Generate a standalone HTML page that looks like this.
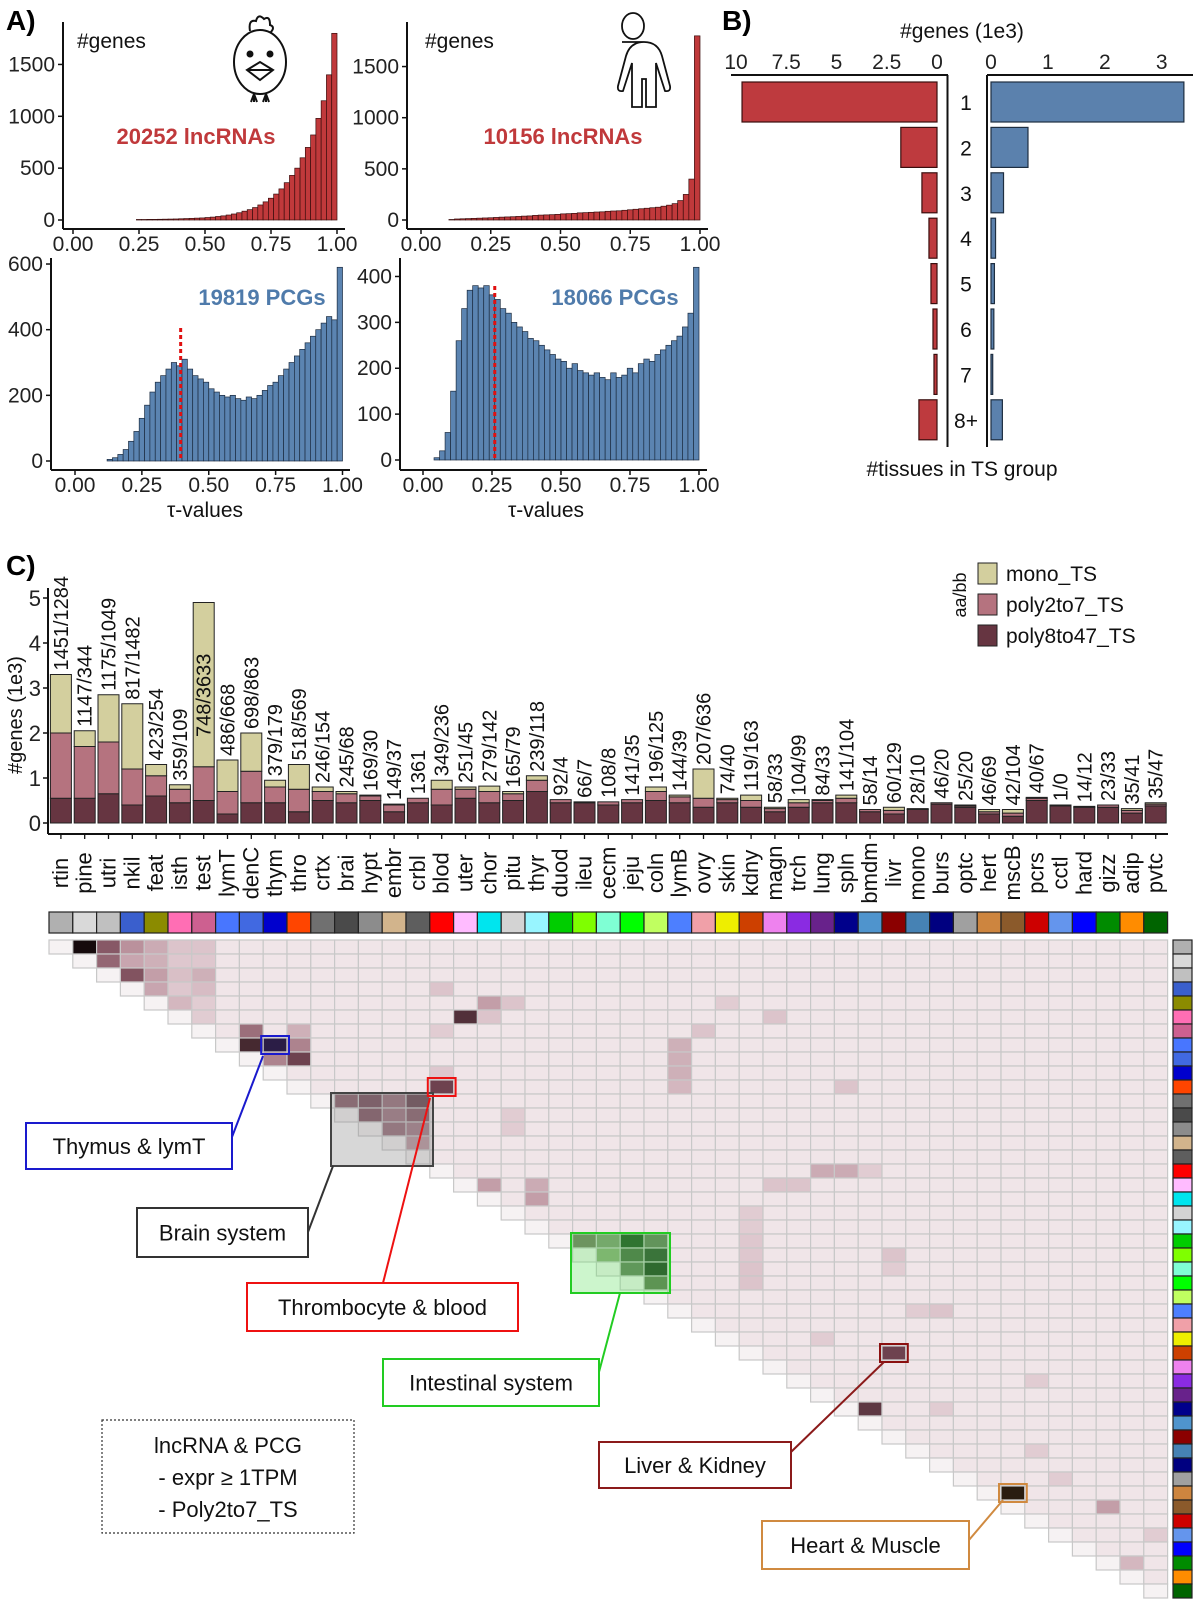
<!DOCTYPE html>
<html><head><meta charset="utf-8">
<style>
html,body{margin:0;padding:0;background:#fff;}
svg{display:block;font-family:"Liberation Sans",sans-serif;}
</style></head>
<body>
<svg id="fig" width="1200" height="1603" viewBox="0 0 1200 1603" xmlns="http://www.w3.org/2000/svg">
<rect width="1200" height="1603" fill="#fff"/>
<text x="6" y="30" font-size="28" font-weight="bold">A)</text>
<text x="722" y="30" font-size="28" font-weight="bold">B)</text>
<text x="6" y="575" font-size="28" font-weight="bold">C)</text>
<!-- chicken icon -->
<g fill="none" stroke="#111" stroke-width="2">
<ellipse cx="260" cy="62" rx="26" ry="32" fill="#fff"/>
<path d="M250 31 q-2 -12 6 -10 q2 -8 8 -2 q6 -4 6 6 q6 2 0 8"/>
<circle cx="250" cy="54" r="2.5" fill="#111"/><circle cx="270" cy="54" r="2.5" fill="#111"/>
<path d="M247 70 L260 62 L273 70 L260 80 Z M247 70 L273 70"/>
<path d="M254 94 l-3 8 M254 94 l0 8 M254 94 l3 8 M266 94 l-3 8 M266 94 l0 8 M266 94 l3 8"/>
</g>
<!-- human icon -->
<g fill="#fff" stroke="#111" stroke-width="1.8">
<ellipse cx="633" cy="26" rx="11" ry="13"/>
<path d="M622 42 h22 q14 0 18 14 l8 30 q1 6 -5 5 l-9 -28 v44 h-10 v-28 h-4 v28 h-10 v-44 l-9 28 q-6 1 -5 -5 l8 -30 q4 -14 18 -14 Z" />
</g>
</svg>
<script>
const NS='http://www.w3.org/2000/svg';
const svg=document.getElementById('fig');
function mk(tag,attrs,parent){const e=document.createElementNS(NS,tag);for(const k in attrs)e.setAttribute(k,attrs[k]);(parent||svg).appendChild(e);return e;}
function txt(s,attrs,parent){const t=mk('text',attrs,parent);t.textContent=s;return t;}

/* ---------- Panel A data ---------- */
const chickLnc=[0,0,0,0,0,0,0,0,0,0,0,0,5,5,6,6,7,8,9,10,12,14,16,18,20,24,28,34,40,48,58,70,85,100,120,145,175,210,250,300,360,430,500,600,700,820,980,1150,1400,1800];
const humanLnc=[0,0,0,0,0,5,10,12,14,16,18,20,22,25,28,30,32,35,38,40,45,48,50,52,55,60,62,65,70,72,75,78,80,85,88,90,95,100,105,110,115,120,125,135,145,160,190,250,400,1800];
const chickPcg=[0,0,0,0,0,0,5,10,20,35,60,90,130,170,210,240,260,280,300,290,310,280,260,250,240,220,210,200,195,200,190,185,195,190,200,215,230,240,260,280,300,320,340,360,380,400,420,440,430,590];
const humanPcg=[0,0,5,20,60,150,260,330,370,380,375,380,360,350,330,320,300,290,280,265,260,250,240,230,220,215,200,210,195,190,185,190,180,175,190,180,185,200,190,210,220,215,230,240,250,260,270,290,320,420];
const xTicks=[0,0.25,0.5,0.75,1];
const xTickLabels=['0.00','0.25','0.50','0.75','1.00'];
const lncTicks=[0,500,1000,1500];
const chickPcgTicks=[0,200,400,600];
const humanPcgTicks=[0,100,200,300,400];
const medianTau=[0.395,0.26];

function hist(vals,o){
  const g=mk('g',{});
  
  
  const sx=v=>o.x0+v*(o.x1-o.x0);
  const sy=v=>o.y0-v*o.k;
  const n=vals.length;
  vals.forEach((v,i)=>{
    if(v<=0)return;
    const r=mk('rect',{x:sx(i/n),y:sy(v),width:sx(1/n)-sx(0),height:o.y0-sy(v),fill:o.fill,stroke:o.stroke,'stroke-width':0.7},g);
    
    
  });
  mk('line',{x1:o.ax,y1:o.top,x2:o.ax,y2:o.ay,stroke:'#111','stroke-width':2},g);
  mk('line',{x1:o.ax,y1:o.ay,x2:o.right,y2:o.ay,stroke:'#111','stroke-width':2},g);
  o.yt.forEach(t=>{
    mk('line',{x1:o.ax-5,y1:sy(t),x2:o.ax,y2:sy(t),stroke:'#111','stroke-width':1.5},g);
    const l=txt(String(t),{x:o.ax-8,y:sy(t)+7,'font-size':21,'text-anchor':'end',fill:'#222'},g);
    
    
  });
  xTicks.forEach((t,i)=>{
    mk('line',{x1:sx(t),y1:o.ay,x2:sx(t),y2:o.ay+5,stroke:'#111','stroke-width':1.5},g);
    const l=txt(xTickLabels[i],{x:sx(t),y:o.ay+22,'font-size':21,'text-anchor':'middle',fill:'#222'},g);
    
    
  });
  return {sx,sy,g};
}
const a1=hist(chickLnc,{name:'chicken-lncrna-histogram',x0:73,x1:337,y0:220,k:0.1037,ax:63,ay:229,top:22,right:345,fill:'#c0393b',stroke:'#3a0d0d',yt:lncTicks});
const a2=hist(humanLnc,{name:'human-lncrna-histogram',x0:421,x1:700,y0:220,k:0.1023,ax:407,ay:229,top:22,right:708,fill:'#c0393b',stroke:'#3a0d0d',yt:lncTicks});
const a3=hist(chickPcg,{name:'chicken-pcg-histogram',x0:75,x1:342.5,y0:461,k:0.3283,ax:51,ay:470,top:258,right:350,fill:'#5b84b1',stroke:'#1c2c40',yt:chickPcgTicks});
const a4=hist(humanPcg,{name:'human-pcg-histogram',x0:423,x1:699,y0:460,k:0.4588,ax:400,ay:470,top:258,right:707,fill:'#5b84b1',stroke:'#1c2c40',yt:humanPcgTicks});
[[a3,medianTau[0],328,461],[a4,medianTau[1],286,460]].forEach(([p,t,y1,y2])=>{
  const l=mk('line',{x1:p.sx(t),y1:y1,x2:p.sx(t),y2:y2,stroke:'#e01010','stroke-width':3,'stroke-dasharray':'4,3'});
  
  
});
[['#genes',77,48],['#genes',425,48]].forEach(([s,x,y])=>{const t=txt(s,{x:x,y:y,'font-size':21,fill:'#111'});

});
[['20252 lncRNAs',196,144,'#c0393b'],['10156 lncRNAs',563,144,'#c0393b'],['19819 PCGs',262,305,'#4f7bab'],['18066 PCGs',615,305,'#4f7bab']].forEach(([s,x,y,c])=>{
  const t=txt(s,{x:x,y:y,'font-size':22,'font-weight':'bold','text-anchor':'middle',fill:c});
  
  
});
[205,546].forEach(x=>{const t=txt('τ-values',{x:x,y:517,'font-size':21,'text-anchor':'middle',fill:'#111'});

});

/* ---------- Panel B ---------- */
const tsGroups=['1','2','3','4','5','6','7','8+'];
const lncGroupCounts=[9.7,1.8,0.75,0.4,0.3,0.2,0.15,0.9];
const pcgGroupCounts=[3.39,0.65,0.22,0.08,0.06,0.05,0.03,0.2];
const lncTicksB=[10,7.5,5,2.5,0];
const pcgTicksB=[0,1,2,3];
const bl=v=>937-v*20.1, br=v=>991+v*56.9, rowY=i=>102+i*45.4;
mk('line',{x1:731,y1:75,x2:948,y2:75,stroke:'#111','stroke-width':2});
mk('line',{x1:947.5,y1:75,x2:947.5,y2:447,stroke:'#111','stroke-width':2});
mk('line',{x1:987,y1:75,x2:1193,y2:75,stroke:'#111','stroke-width':2});
mk('line',{x1:987,y1:75,x2:987,y2:447,stroke:'#111','stroke-width':2});
lncTicksB.forEach(t=>{const l=txt(String(t),{x:bl(t),y:69,'font-size':21,'text-anchor':'middle',fill:'#222'});

});
pcgTicksB.forEach(t=>{const l=txt(String(t),{x:br(t),y:69,'font-size':21,'text-anchor':'middle',fill:'#222'});

});
tsGroups.forEach((g,i)=>{
  const r1=mk('rect',{x:bl(lncGroupCounts[i]),y:rowY(i)-20,width:937-bl(lncGroupCounts[i]),height:40,fill:'#be3a3e',stroke:'#3a0e0e','stroke-width':1.2});
  
  
  const r2=mk('rect',{x:991,y:rowY(i)-20,width:br(pcgGroupCounts[i])-991,height:40,fill:'#5b81ad',stroke:'#1e2e40','stroke-width':1.2});
  
  
  const l=txt(g,{x:966,y:rowY(i)+8,'font-size':21,'text-anchor':'middle',fill:'#111'});
  
  
});
let tb=txt('#genes (1e3)',{x:962,y:38,'font-size':21,'text-anchor':'middle',fill:'#111'});


tb=txt('#tissues in TS group',{x:962,y:476,'font-size':21,'text-anchor':'middle',fill:'#111'});



/* ---------- Panel C data ---------- */
const tissues=['rtin','pine','utri','nkil','feat','isth','test','lymT','denC','thym','thro','crtx','brai','hypt','embr','crbl','blod','uter','chor','pitu','thyr','duod','ileu','cecm','jeju','coln','lymB','ovry','skin','kdny','magn','trch','lung','spln','bmdm','livr','mono','burs','optc','hert','mscB','pcrs','cctl','hard','gizz','adip','pvtc'];
const tissueColors=['#b0b0b0','#d9d9d9','#c0c0c0','#3a5fcd','#8b8b00','#ff6eb4','#cd6090','#4876ff','#4169e1','#0000cd','#ff4500','#707070','#4a4a4a','#8c8c8c','#d2b48c','#5e5e5e','#ff0000','#ffbbff','#00e5ee','#d3d3d3','#98f5ff','#00cd00','#7fff00','#7fffd4','#00ff00','#c0ff60','#4d7fff','#f0a0a8','#eeee00','#cd4000','#ee82ee','#8a2be2','#68228b','#00008b','#4f94cd','#8b0000','#4682b4','#000080','#a0a0a0','#cd853f','#8b5a2b','#cd0000','#6495ed','#0000ff','#008b00','#ff8c00','#006400'];
const poly8=[0.55,0.55,0.65,0.4,0.6,0.45,0.5,0.2,0.45,0.45,0.25,0.5,0.45,0.5,0.25,0.45,0.4,0.55,0.45,0.5,0.7,0.45,0.45,0.4,0.45,0.5,0.45,0.35,0.45,0.35,0.25,0.35,0.45,0.45,0.25,0.2,0.3,0.42,0.35,0.2,0.15,0.5,0.38,0.35,0.35,0.22,0.38];
const poly2=[1.45,1.15,1.15,0.8,0.45,0.3,0.75,0.5,0.7,0.35,0.5,0.2,0.2,0.1,0.15,0.1,0.35,0.2,0.25,0.15,0.25,0.07,0.02,0.07,0.07,0.2,0.13,0.2,0.07,0.15,0.07,0.1,0.05,0.1,0.05,0.08,0.02,0.03,0.03,0.05,0.07,0.05,0.02,0.02,0.05,0.06,0.04];
const mono=[1.3,0.35,1.05,1.45,0.25,0.1,3.65,0.7,0.85,0.15,0.55,0.1,0.05,0.02,0.02,0,0.2,0.05,0.12,0.05,0.1,0,0,0,0,0.1,0.04,0.65,0.03,0.12,0.03,0.07,0.02,0.07,0,0.07,0,0,0.02,0.05,0.08,0.02,0,0,0,0.04,0.03];
const countLabels=['1451/1284','1147/344','1175/1049','817/1482','423/254','359/109','748/3633','486/668','698/863','379/179','518/569','246/154','245/68','169/30','149/37','1361','349/236','251/45','279/142','165/79','239/118','92/4','66/7','108/8','141/35','196/125','144/39','207/636','74/40','119/163','58/33','104/99','84/33','141/104','58/14','60/129','28/10','46/20','25/20','46/69','42/104','40/67','1/0','14/12','23/33','35/41','35/47'];
const cTicks=[0,1,2,3,4,5];
const CX0=49, CP=23.8, RY0=940, RP=14;
const cx=i=>CX0+i*CP, cy=v=>823-v*45;
mk('line',{x1:48,y1:588,x2:48,y2:834,stroke:'#111','stroke-width':2});
mk('line',{x1:48,y1:834,x2:1168,y2:834,stroke:'#111','stroke-width':2});
cTicks.forEach(t=>{mk('line',{x1:43,y1:cy(t),x2:48,y2:cy(t),stroke:'#111','stroke-width':1.5});
const l=txt(String(t),{x:41,y:cy(t)+8,'font-size':22,'text-anchor':'end',fill:'#222'});

});
let yt=txt('#genes (1e3)',{x:22,y:715,'font-size':20,'text-anchor':'middle',fill:'#111',transform:'rotate(-90 22 715)'});


tissues.forEach((t,i)=>{
  const x=cx(i)+1.4, w=CP-2.8;
  let b=0;
  [[poly8[i],'#663541'],[poly2[i],'#b5737f'],[mono[i],'#d3cf9e']].forEach(([v,c])=>{
    if(v<=0)return;
    const r=mk('rect',{x:x,y:cy(b+v),width:w,height:v*45,fill:c,stroke:'#222','stroke-width':1});
    
    
    b+=v;
  });
  mk('line',{x1:cx(i)+CP/2,y1:834,x2:cx(i)+CP/2,y2:839,stroke:'#111','stroke-width':1.3});
  let ly=cy(b)-4; if(ly<640) ly=737;
  const lx=cx(i)+CP/2+7;
  const cl=txt(countLabels[i],{x:lx,y:ly,'font-size':20,fill:'#111',transform:`rotate(-90 ${lx} ${ly})`});
  
  
  const tx=cx(i)+CP/2+7;
  const tl=txt(t,{x:tx,y:873,'font-size':22,'text-anchor':'middle',fill:'#111',transform:`rotate(-90 ${tx} 873)`});
  
  
  const sc=mk('rect',{x:cx(i),y:912,width:CP,height:21,fill:tissueColors[i],stroke:'#222','stroke-width':1.2});
  
  
  const sr=mk('rect',{x:1173,y:RY0+i*RP,width:19,height:RP,fill:tissueColors[i],stroke:'#222','stroke-width':1.2});
  
  
});
/* legend */
[['mono_TS','#d3cf9e',563],['poly2to7_TS','#b5737f',594],['poly8to47_TS','#663541',625]].forEach(([s,c,y])=>{
  const r=mk('rect',{x:978,y:y,width:19,height:21,fill:c,stroke:'#222','stroke-width':1});
  
  
  const t=txt(s,{x:1006,y:y+18,'font-size':21,fill:'#111'});
  
  
});
let lt=txt('aa/bb',{x:966,y:595,'font-size':18,'text-anchor':'middle',fill:'#111',transform:'rotate(-90 966 595)'});



/* ---------- Heatmap ---------- */
const hiCells=[[0,1,1],[0,2,.7],[0,3,.5],[0,4,.4],[0,5,.3],[0,6,.3],[1,2,.65],[1,3,.42],[1,4,.38],[1,5,.28],[1,6,.28],[2,3,.72],[2,4,.45],[2,5,.32],[2,6,.38],[3,4,.42],[3,5,.28],[3,6,.33],[3,16,.3],[4,5,.35],[4,6,.25],[4,18,.45],[4,28,.25],[4,19,.3],[5,6,.25],[5,17,.85],[5,18,.3],[5,30,.3],[6,8,.62],[6,10,.38],[6,27,.3],[6,16,.25],[7,8,.88],[7,10,.55],[7,26,.38],[8,9,.55],[8,10,.78],[8,26,.38],[9,26,.38],[9,16,.28],[10,16,.78],[10,26,.35],[10,33,.3],[11,12,.72],[11,13,.78],[11,14,.65],[11,15,.82],[12,13,.75],[12,14,.62],[12,15,.72],[13,14,.65],[13,15,.6],[14,15,.5],[12,19,.25],[13,19,.25],[16,32,.4],[16,33,.4],[16,34,.25],[17,18,.45],[17,20,.4],[17,30,.3],[17,31,.3],[18,20,.45],[19,29,.25],[20,29,.25],[21,29,.28],[22,29,.28],[23,29,.3],[24,29,.3],[22,35,.3],[23,35,.25],[26,37,.3],[26,36,.25],[29,35,.78],[33,34,.82],[33,37,.25],[39,40,1],[40,44,.45],[44,45,.35],[28,32,.25],[31,41,.25],[36,41,.25],[38,42,.25],[42,46,.25]];
const specialCells=[[7,9,'#2b1d46'],[21,22,'#6e6a58'],[21,23,'#7a8a6a'],[21,24,'#0f3a10'],[21,25,'#5d6a52'],[22,23,'#86a070'],[22,24,'#405a38'],[22,25,'#1f3a1f'],[23,24,'#5a7050'],[23,25,'#0f2a0f'],[24,25,'#556a45'],[39,40,'#2a1d10']];
const stops=[[0,[248,245,246]],[0.1,[240,229,232]],[0.3,[220,196,203]],[0.5,[186,145,156]],[0.75,[122,74,88]],[1,[22,10,12]]];
function col(v){for(let i=1;i<stops.length;i++){if(v<=stops[i][0]){const a=stops[i-1],b=stops[i],t=(v-a[0])/(b[0]-a[0]);return 'rgb('+a[1].map((c,j)=>Math.round(c+(b[1][j]-c)*t)).join(',')+')';}}return 'rgb(22,10,12)';}
const N=tissues.length;
const M=[];for(let r=0;r<N;r++){M.push([]);for(let c=0;c<N;c++)M[r].push(c===r?0.02:0.1);}
hiCells.forEach(([r,c,v])=>{M[r][c]=v;});
const spec={};specialCells.forEach(([r,c,s])=>{spec[r+','+c]=s;});
const hm=mk('g',{});


for(let r=0;r<N;r++)for(let c=r;c<N;c++){
  const f=spec[r+','+c]||col(M[r][c]);
  const cell=mk('rect',{x:cx(c),y:RY0+r*RP,width:CP,height:RP,fill:f,stroke:'#c8c8c8','stroke-width':1.2},hm);
  
  
}
/* highlight groups */
let ov=mk('rect',{x:331,y:1093,width:102,height:73,fill:'rgba(150,150,150,0.38)',stroke:'#444','stroke-width':2});


ov=mk('rect',{x:571,y:1233,width:99,height:60,fill:'rgba(110,225,110,0.35)',stroke:'#22cc22','stroke-width':2});


[['thymus-box',cx(9)-2,RY0+7*RP-2,'#1a1acd'],['blood-box',cx(16)-2,RY0+10*RP-2,'#ee1111'],['liver-box',cx(35)-2,RY0+29*RP-2,'#8b1010'],['heart-box',cx(40)-2,RY0+39*RP-2,'#d08a40']].forEach(([n,x,y,c])=>{
  const b=mk('rect',{x:x,y:y,width:CP+4,height:RP+4,fill:'none',stroke:c,'stroke-width':2});
  
  
});
const callouts=[['Thymus & lymT',26,1123,206,46,'#1a1acd',232,1137,263,1056],['Brain system',137,1208,171,49,'#333',308,1232,333,1166],['Thrombocyte & blood',247,1283,271,48,'#ee1111',383,1283,430,1098],['Intestinal system',383,1359,216,47,'#22cc22',599,1372,620,1293],['Liver & Kidney',599,1442,192,46,'#8b1a1a',791,1452,884,1362],['Heart & Muscle',762,1521,207,48,'#d08a40',969,1540,1003,1500]];
callouts.forEach(([s,x,y,w,h,c,lx1,ly1,lx2,ly2])=>{
  mk('line',{x1:lx1,y1:ly1,x2:lx2,y2:ly2,stroke:c,'stroke-width':2});
  const r=mk('rect',{x:x,y:y,width:w,height:h,fill:'#fff',stroke:c,'stroke-width':2});
  
  
  const t=txt(s,{x:x+w/2,y:y+h/2+8,'font-size':22,'text-anchor':'middle',fill:'#111'});
  
  
});
const nb=mk('rect',{x:102,y:1420,width:252,height:113,fill:'#fff',stroke:'#333','stroke-width':1.2,'stroke-dasharray':'2,2'});


[['lncRNA & PCG',1453],['- expr ≥ 1TPM',1485],['- Poly2to7_TS',1517]].forEach(([s,y])=>{
  const t=txt(s,{x:228,y:y,'font-size':22,'text-anchor':'middle',fill:'#111'});
  
  
});
</script>
</body></html>
